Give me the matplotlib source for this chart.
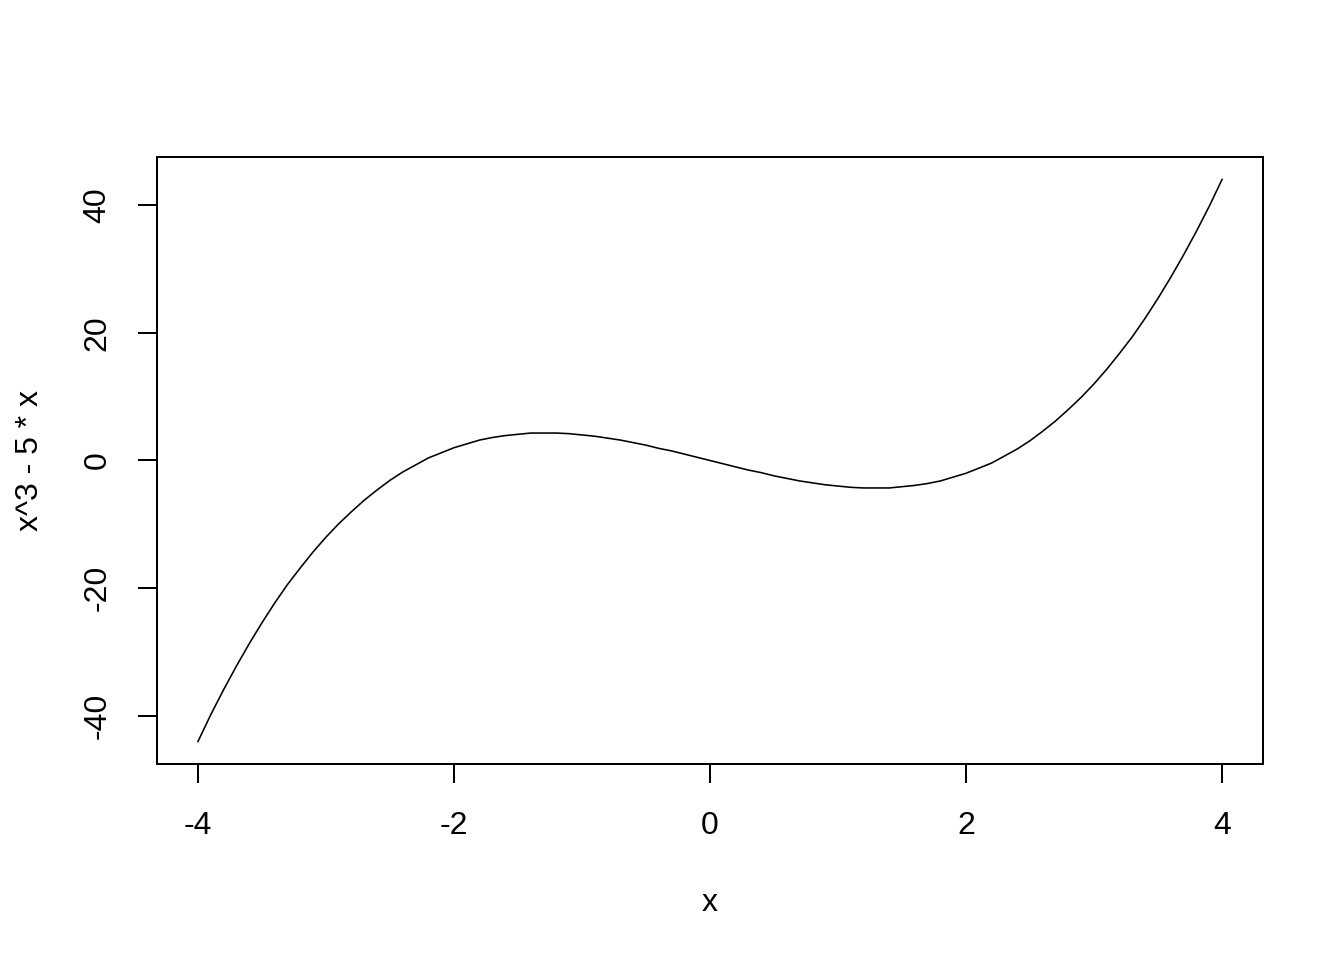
import matplotlib
matplotlib.use("Agg")
import matplotlib.pyplot as plt

# values, x from -4 to 4 in steps of 0.1
x_vals = [-4.0, -3.9, -3.8, -3.7, -3.6, -3.5, -3.4, -3.3, -3.2, -3.1,
          -3.0, -2.9, -2.8, -2.7, -2.6, -2.5, -2.4, -2.3, -2.2, -2.1,
          -2.0, -1.9, -1.8, -1.7, -1.6, -1.5, -1.4, -1.3, -1.2, -1.1,
          -1.0, -0.9, -0.8, -0.7, -0.6, -0.5, -0.4, -0.3, -0.2, -0.1,
          0.0, 0.1, 0.2, 0.3, 0.4, 0.5, 0.6, 0.7, 0.8, 0.9,
          1.0, 1.1, 1.2, 1.3, 1.4, 1.5, 1.6, 1.7, 1.8, 1.9,
          2.0, 2.1, 2.2, 2.3, 2.4, 2.5, 2.6, 2.7, 2.8, 2.9,
          3.0, 3.1, 3.2, 3.3, 3.4, 3.5, 3.6, 3.7, 3.8, 3.9, 4.0]
y_vals = [-44.0, -39.8, -35.9, -32.2, -28.7, -25.4, -22.3, -19.4, -16.8, -14.3,
          -12.0, -9.9, -8.0, -6.2, -4.6, -3.1, -1.8, -0.7, 0.4, 1.2,
          2.0, 2.6, 3.2, 3.6, 3.9, 4.1, 4.3, 4.3, 4.3, 4.2,
          4.0, 3.8, 3.5, 3.2, 2.8, 2.4, 1.9, 1.5, 1.0, 0.5,
          0.0, -0.5, -1.0, -1.5, -1.9, -2.4, -2.8, -3.2, -3.5, -3.8,
          -4.0, -4.2, -4.3, -4.3, -4.3, -4.1, -3.9, -3.6, -3.2, -2.6,
          -2.0, -1.2, -0.4, 0.7, 1.8, 3.1, 4.6, 6.2, 8.0, 9.9,
          12.0, 14.3, 16.8, 19.4, 22.3, 25.4, 28.7, 32.2, 35.9, 39.8, 44.0]
x_ticks = [-4, -2, 0, 2, 4]
y_ticks = [-40, -20, 0, 20, 40]

plt.rcParams['font.family'] = ['Liberation Sans', 'DejaVu Sans']
plt.rcParams['font.size'] = 12
plt.rcParams['axes.unicode_minus'] = False

fig = plt.figure(figsize=(7, 5), dpi=192)
ax = fig.add_axes([157/1344, 1 - 764/960, (1263 - 157)/1344, (764 - 157)/960])

ax.plot(x_vals, y_vals, color='black', linewidth=0.6)

ax.set_xlim(-4.32, 4.32)
ax.set_ylim(-47.52, 47.52)
ax.set_xticks(x_ticks)
ax.set_yticks(y_ticks)
ax.set_yticklabels([str(v) for v in y_ticks], rotation=90, va='center')

for s in ax.spines.values():
    s.set_linewidth(0.75)
ax.tick_params(direction='out', length=7.2, width=0.75, labelsize=12)
ax.tick_params(axis='x', pad=10.5)
ax.tick_params(axis='y', pad=9.5)

ax.set_xlabel("x", fontsize=12, labelpad=17.5)
ax.set_ylabel("x^3 - 5 * x", fontsize=12, labelpad=14)

fig.savefig("out.png", dpi=192)
